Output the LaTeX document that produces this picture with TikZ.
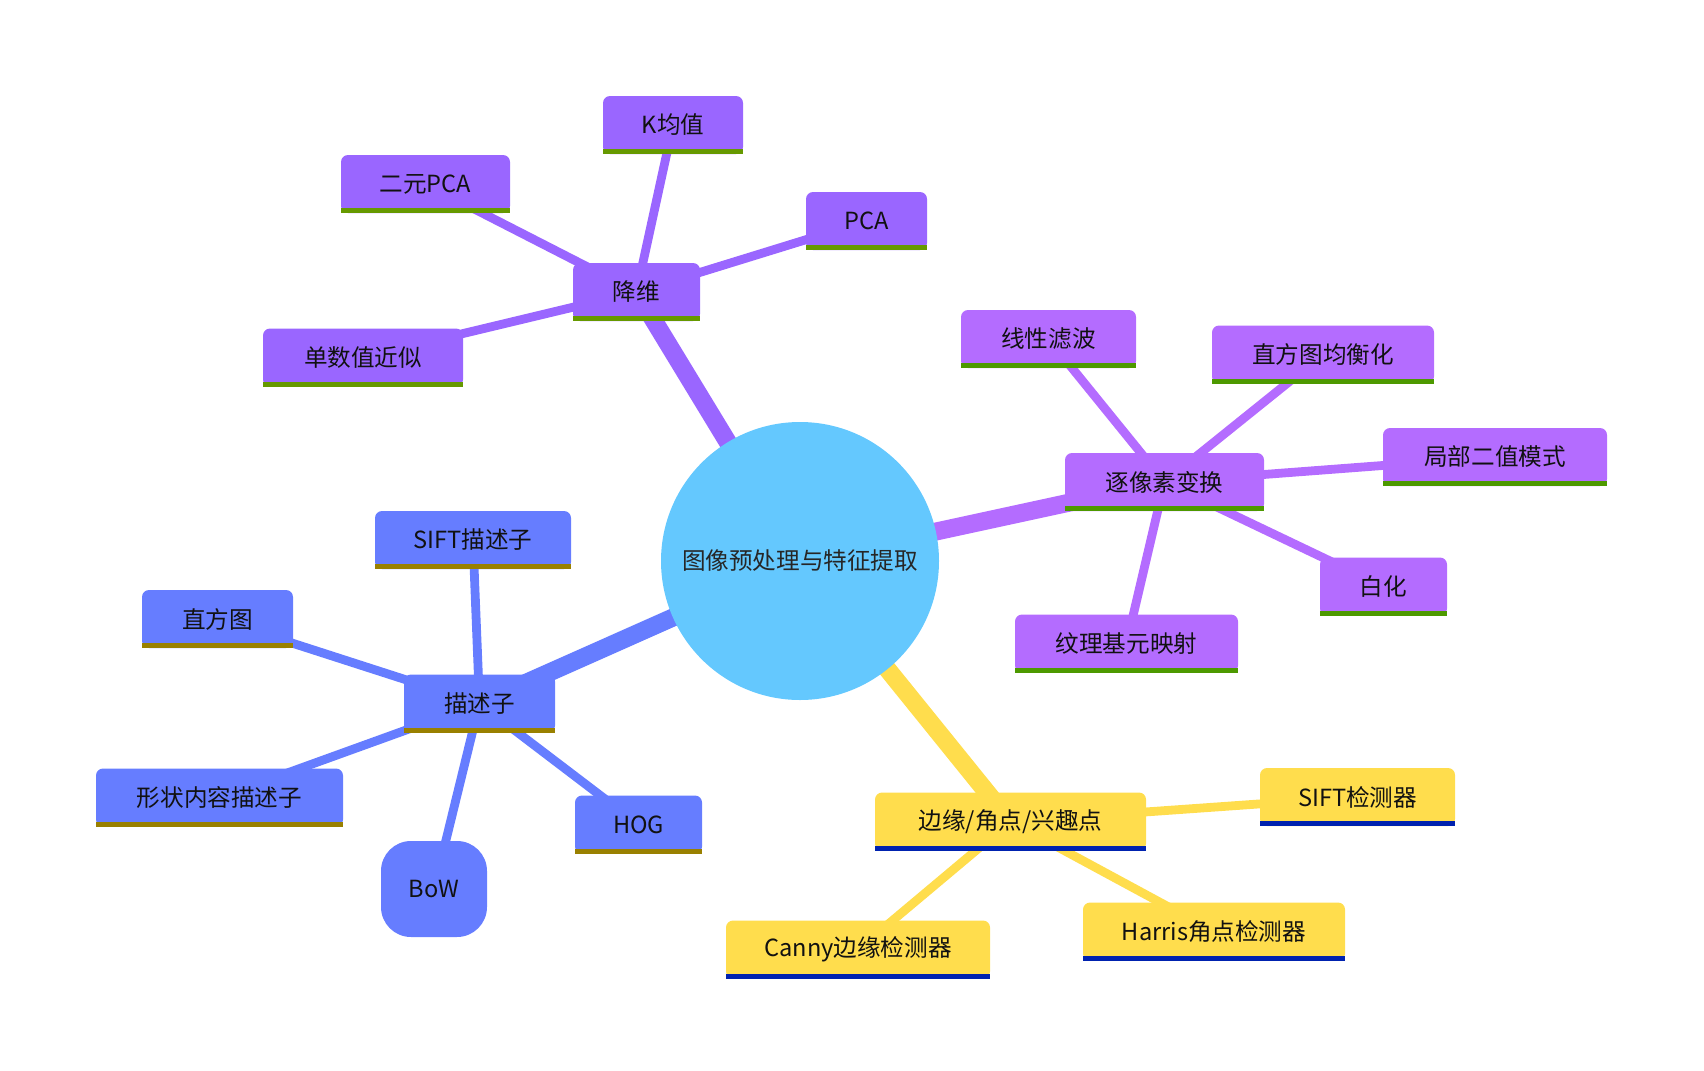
\documentclass[tikz,border=0pt]{standalone}
\usepackage{fontspec}
\newfontfamily\cjk{Noto Sans CJK SC}
\pgfdeclarelayer{bg}
\pgfsetlayers{bg,main}
\definecolor{rootc}{HTML}{64C8FE}
\definecolor{pA}{HTML}{9A66FF}
\definecolor{pB}{HTML}{B46CFF}
\definecolor{bl}{HTML}{667DFF}
\definecolor{ye}{HTML}{FFDD4D}
\definecolor{barA}{HTML}{669900}
\definecolor{barB}{HTML}{4D9900}
\definecolor{barC}{HTML}{998000}
\definecolor{barD}{HTML}{0022AF}
\definecolor{txt}{HTML}{111111}
\begin{document}
\begin{tikzpicture}[x=0.5pt,y=-0.5pt,
  box/.style={rounded corners=3.5pt, minimum height=29pt, inner sep=0pt,
    font=\cjk\fontsize{11.8}{14}\selectfont, text=txt},
  ga/.style={box, fill=pA},
  gb/.style={box, fill=pB},
  gc/.style={box, fill=bl},
  gd/.style={box, fill=ye},
  trunk/.style={line width=9pt},
  twig/.style={line width=4.4pt},
]
\useasboundingbox (0,0) rectangle (1704,1071);

% root
\node[circle, fill=rootc, minimum size=139pt, inner sep=0pt,
  font=\cjk\fontsize{11.8}{14}\selectfont, text=black!85] (root) at (800,561) {图像预处理与特征提取};

% group A
\node[ga, minimum width=63.5pt] (jw) at (636.5,292) {降维};
\node[ga, minimum width=70pt] (km) at (673,125) {K均值};
\node[ga, minimum width=84.5pt] (ep) at (425.5,184) {二元PCA};
\node[ga, minimum width=60.5pt] (pca) at (866.5,221) {PCA};
\node[ga, minimum width=100pt] (svd) at (363,357.5) {单数值近似};

% group B
\node[gb, minimum width=99.5pt] (zx) at (1164.5,482) {逐像素变换};
\node[gb, minimum width=87.5pt] (xx) at (1048.5,339) {线性滤波};
\node[gb, minimum width=111pt] (zf) at (1323,354.5) {直方图均衡化};
\node[gb, minimum width=112pt] (lbp) at (1495,457) {局部二值模式};
\node[gb, minimum width=63.5pt] (bh) at (1383.5,586.5) {白化};
\node[gb, minimum width=111.5pt] (wl) at (1126.5,643.5) {纹理基元映射};

% group C
\node[gc, minimum width=75.5pt] (ms) at (479.5,703.5) {描述子};
\node[gc, minimum width=98pt] (sd) at (473,540) {SIFT描述子};
\node[gc, minimum width=75.5pt] (zft) at (217.5,619) {直方图};
\node[gc, minimum width=123.5pt] (xz) at (219.5,797.5) {形状内容描述子};
\node[box, fill=bl, rounded corners=15pt, minimum width=53pt, minimum height=48pt] (bow) at (434,889) {BoW};
\node[gc, minimum width=63.5pt] (hog) at (638.5,824.5) {HOG};

% group D
\node[gd, minimum width=135.5pt] (by) at (1010.5,821.5) {边缘/角点/兴趣点};
\node[gd, minimum width=97.5pt] (sj) at (1357.5,797) {SIFT检测器};
\node[gd, minimum width=132pt] (cn) at (858,949.5) {Canny边缘检测器};
\node[gd, minimum width=131pt] (hr) at (1214,931.5) {Harris角点检测器};

% bars
\foreach \n/\c in {jw/barA,km/barA,ep/barA,pca/barA,svd/barA,
  zx/barB,xx/barB,zf/barB,lbp/barB,bh/barB,wl/barB,
  ms/barC,sd/barC,zft/barC,xz/barC,hog/barC,
  by/barD,sj/barD,cn/barD,hr/barD}
  \fill[\c] (\n.south west) rectangle ([yshift=2.6pt]\n.south east);

% connectors
\begin{pgfonlayer}{bg}
\draw[trunk, pA] (root.center) -- (jw.center);
\draw[trunk, pB] (root.center) -- (zx.center);
\draw[trunk, bl] (root.center) -- (ms.center);
\draw[trunk, ye] (root.center) -- (by.center);
\foreach \t in {km,ep,pca,svd} \draw[twig, pA] (jw.center) -- (\t.center);
\foreach \t in {xx,zf,lbp,bh,wl} \draw[twig, pB] (zx.center) -- (\t.center);
\foreach \t in {sd,zft,xz,bow,hog} \draw[twig, bl] (ms.center) -- (\t.center);
\foreach \t in {sj,cn,hr} \draw[twig, ye] (by.center) -- (\t.center);
\end{pgfonlayer}
\end{tikzpicture}
\end{document}
